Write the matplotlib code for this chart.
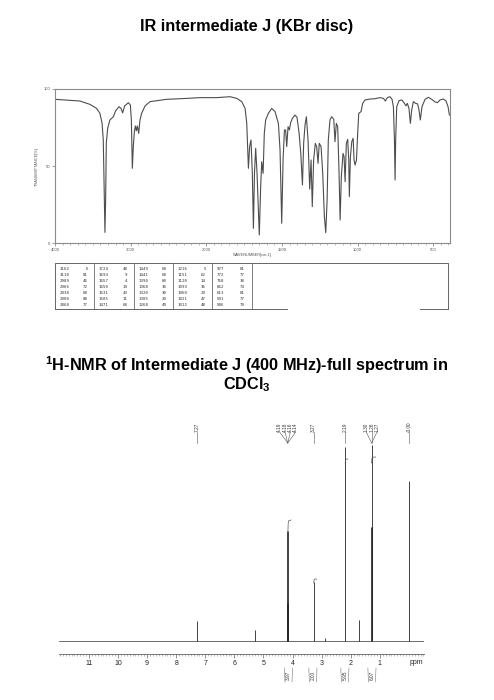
import numpy as np
import matplotlib
matplotlib.use('Agg')
import matplotlib.pyplot as plt
from matplotlib.ticker import FixedLocator, FixedFormatter, NullFormatter

plt.rcParams['font.family'] = ['Liberation Sans', 'DejaVu Sans']
plt.rcParams['mathtext.fontset'] = 'custom'
plt.rcParams['mathtext.rm'] = 'Liberation Sans:bold'
plt.rcParams['mathtext.default'] = 'rm'

# ---------------- IR data (traced) ----------------
ir_wavenumber = [4000, 3670, 3538, 3450, 3406, 3378, 3362, 3348, 3340, 3331, 3322, 3304, 3274, 3229,
                 3198, 3154, 3128, 3106, 3080, 3030, 3004, 2991, 2978, 2965, 2951, 2938, 2925, 2912,
                 2894, 2877, 2855, 2810, 2744, 2524, 2260, 2084, 1932, 1843, 1799, 1766, 1744, 1733,
                 1722, 1714, 1705, 1696, 1689, 1682, 1674, 1665, 1650, 1641, 1634, 1625, 1617, 1608,
                 1590, 1568, 1546, 1524, 1513, 1502, 1493, 1484, 1476, 1469, 1460, 1451, 1443, 1431,
                 1414, 1401, 1387, 1376, 1365, 1357, 1348, 1339, 1328, 1317, 1308, 1300, 1291, 1280,
                 1271, 1262, 1254, 1242, 1231, 1220, 1211, 1202, 1194, 1183, 1172, 1158, 1150, 1141,
                 1132, 1123, 1116, 1108, 1097, 1090, 1083, 1075, 1066, 1059, 1055, 1048, 1039, 1030,
                 1024, 1017, 1008, 1000, 993, 978, 967, 951, 918, 885, 852, 830, 817, 804, 786, 773,
                 764, 757, 753, 749, 742, 727, 709, 694, 681, 672, 661, 652, 643, 632, 617, 604, 595,
                 586, 575, 555, 533, 511, 489, 473, 456, 434, 416, 403, 394]
ir_transmittance = [93.3, 92.2, 90.0, 87.4, 84.2, 77.7, 66.9, 27.9, 6.9, 27.9, 64.7, 74.5, 79.9, 82.0,
                    85.9, 88.5, 87.4, 84.5, 89.0, 91.1, 89.6, 79.9, 48.5, 62.6, 72.3, 76.0, 72.9, 76.0,
                    71.2, 79.9, 84.2, 89.0, 91.8, 93.3, 93.9, 94.4, 94.4, 95.0, 93.9, 91.8, 87.4, 77.7,
                    48.5, 62.6, 66.9, 45.2, 9.5, 45.2, 61.5, 45.2, 5.2, 36.6, 52.8, 45.2, 71.2, 79.9,
                    84.2, 87.4, 85.3, 77.7, 60.4, 12.8, 53.9, 73.4, 73.4, 62.6, 75.5, 73.4, 78.1, 81.0,
                    83.1, 81.6, 71.2, 58.2, 37.7, 64.7, 76.6, 82.0, 66.9, 35.0, 53.9, 23.6, 53.9, 64.7,
                    62.6, 51.7, 64.7, 62.6, 45.2, 17.1, 6.7, 27.9, 66.9, 79.9, 82.0, 80.3, 65.8, 77.7,
                    75.5, 45.2, 14.9, 43.1, 58.2, 56.1, 39.8, 64.7, 67.3, 53.9, 30.1, 56.1, 65.8, 68.0,
                    53.9, 50.6, 53.9, 71.2, 84.2, 85.3, 90.7, 92.9, 93.5, 93.7, 94.4, 93.9, 92.2, 94.4,
                    95.0, 93.3, 88.5, 66.9, 40.9, 66.9, 88.5, 92.4, 92.9, 91.1, 89.0, 90.7, 87.4, 77.7,
                    86.4, 91.8, 90.7, 90.3, 86.4, 79.9, 88.5, 93.3, 94.6, 93.3, 91.6, 91.1, 92.9, 93.5,
                    92.2, 88.5, 83.1]
ir_tick_values = [4000, 3000, 2000, 1500, 1000, 500]
ir_tick_labels = ['4000', '3000', '2000', '1500', '1000', '500']

# peak table (wavenumber, %T) in 5 columns of 7 rows
table_wavenumber = [[3162, 3110, 2989, 2966, 2938, 2900, 2868],
                    [1724, 1693, 1657, 1650, 1631, 1505, 1471],
                    [1449, 1441, 1390, 1368, 1320, 1305, 1268],
                    [1216, 1151, 1120, 1093, 1060, 1021, 1012],
                    [977, 772, 768, 662, 613, 591, 586]]
table_transmittance = [[6, 81, 46, 72, 68, 88, 77],
                       [48, 9, 4, 19, 43, 11, 68],
                       [68, 68, 60, 36, 30, 20, 49],
                       [5, 62, 14, 36, 29, 47, 48],
                       [81, 77, 38, 74, 81, 77, 79]]

# ---------------- 1H NMR data ----------------
nmr_peak_ppm = [7.27, 5.30, 4.193, 4.175, 4.157, 4.139, 3.27, 2.88, 2.19, 1.70, 1.299, 1.281, 1.263, 0.00]
nmr_peak_height = [20, 11, 38, 110, 110, 38, 59, 3, 194, 21, 114, 196, 114, 160]

label_group_ppm = [7.27, 4.166, 3.27, 2.19, 1.281, 0.00]
label_group_texts = [['7.27'], ['4.19', '4.18', '4.16', '4.14'], ['3.27'], ['2.19'],
                     ['1.30', '1.28', '1.27'], ['-0.00']]

integral_ppm = [4.16, 3.27, 2.19, 1.28]
integral_values = ['3.97', '2.00', '5.95', '6.07']
integral_curve_start = [108, 58, 178, 178]
integral_curve_rise = [13, 4, 4, 6]
integral_curve_width = [0.11, 0.10, 0.09, 0.14]
integral_label_ppm = [4.14, 3.30, 2.20, 1.27]

nmr_tick_values = list(range(1, 12))

W, H = 494, 700
fig = plt.figure(figsize=(W / 100, H / 100), dpi=100)

def fr(x0, y0, x1, y1):
    return [x0 / W, 1 - y1 / H, (x1 - x0) / W, (y1 - y0) / H]

# titles
fig.text(247 / W, 1 - 26 / H, 'IR intermediate J (KBr disc)', ha='center', va='center',
         fontsize=11.7, fontweight='bold')
fig.text(247 / W, 1 - 365 / H, r'$^{1}$H-NMR of Intermediate J (400 MHz)-full spectrum in',
         ha='center', va='center', fontsize=11.7, fontweight='bold')
fig.text(247 / W, 1 - 385 / H, r'CDCl$_{3}$', ha='center', va='center', fontsize=11.7,
         fontweight='bold')

# ---------------- IR axes ----------------
def fwd(w):
    w = np.asarray(w, dtype=float)
    return np.where(w <= 2000, w, 2000 + (w - 2000) / 2)

def inv(u):
    u = np.asarray(u, dtype=float)
    return np.where(u <= 2000, u, 2000 + 2 * (u - 2000))

ax1 = fig.add_axes(fr(55, 89, 450, 243))
ax1.set_xscale('function', functions=(fwd, inv))
ax1.plot(ir_wavenumber, ir_transmittance, color='#4d4d4d', lw=0.8)
ax1.set_xlim(4000, 390)
ax1.set_ylim(0, 100)
for s in ax1.spines.values():
    s.set_color('#8a8a8a')
    s.set_linewidth(0.8)
ax1.xaxis.set_major_locator(FixedLocator(ir_tick_values))
ax1.xaxis.set_major_formatter(FixedFormatter(ir_tick_labels))
minor = list(range(3900, 2000, -100)) + list(range(1950, 399, -50))
ax1.xaxis.set_minor_locator(FixedLocator(minor))
ax1.xaxis.set_minor_formatter(NullFormatter())
ax1.yaxis.set_major_locator(FixedLocator([0, 50, 100]))
ax1.yaxis.set_major_formatter(FixedFormatter(['0', '50', '100']))
ax1.tick_params(axis='both', which='major', labelsize=3, length=2, width=0.5, pad=1.5,
                color='#777777', labelcolor='#555555')
ax1.tick_params(axis='both', which='minor', length=1.2, width=0.4, color='#888888')
ax1.set_xlabel('WAVENUMBER[cm-1]', fontsize=2.8, color='#555555', labelpad=0.5)
ax1.set_ylabel('TRANSMITTANCE[%]', fontsize=2.8, color='#555555', labelpad=3)

# ---------------- peak table ----------------
axt = fig.add_axes(fr(50, 258, 453, 314))
axt.set_xlim(50, 453)
axt.set_ylim(314, 258)
axt.axis('off')
axt.plot([55, 55, 448, 448], [309, 263, 263, 309], color='#666666', lw=0.7, clip_on=False)
axt.plot([55, 287], [309, 309], color='#666666', lw=0.7, clip_on=False)
axt.plot([420, 448], [309, 309], color='#666666', lw=0.7, clip_on=False)
col_w = 39.3
for c in range(1, 6):
    xc = 55 + c * col_w
    axt.plot([xc, xc], [263, 309], color='#666666', lw=0.6, clip_on=False)
for c in range(5):
    x0 = 55 + c * col_w
    for r in range(7):
        y = 268.5 + r * 6
        axt.text(x0 + 4.5, y, str(table_wavenumber[c][r]), ha='left', va='center',
                 fontsize=3.0, family='DejaVu Sans Mono', color='#333333', clip_on=False)
        axt.text(x0 + 33, y, str(table_transmittance[c][r]), ha='right', va='center',
                 fontsize=3.0, family='DejaVu Sans Mono', color='#333333', clip_on=False)

# ---------------- NMR axes ----------------
ax2 = fig.add_axes(fr(59, 400, 424, 654))
ax2.patch.set_visible(False)
ax2.set_xlim(12.03, -0.52)
ax2.set_ylim(-13, 241)
for k in ['top', 'left', 'right']:
    ax2.spines[k].set_visible(False)
ax2.spines['bottom'].set_color('#777777')
ax2.spines['bottom'].set_linewidth(0.7)
ax2.yaxis.set_visible(False)
ax2.plot([12.03, -0.52], [0, 0], color='#555555', lw=0.6)
ax2.vlines(nmr_peak_ppm, 0, nmr_peak_height, color='#222222', lw=0.6)

ax2.xaxis.set_major_locator(FixedLocator(nmr_tick_values))
ax2.xaxis.set_major_formatter(FixedFormatter([str(v) for v in nmr_tick_values]))
ax2.xaxis.set_minor_locator(FixedLocator(np.arange(-0.5, 12.01, 0.1)))
ax2.tick_params(axis='x', which='major', labelsize=5, length=3, width=0.5, pad=1.5,
                color='#666666', labelcolor='#222222')
ax2.tick_params(axis='x', which='minor', length=1.5, width=0.4, color='#888888')
ax2.text(-0.27, -22, 'ppm', ha='center', va='center', fontsize=5, color='#222222', clip_on=False)

# peak labels with leader lines
spacing = 0.185
for c, texts in zip(label_group_ppm, label_group_texts):
    n = len(texts)
    for k, t in enumerate(texts):
        xl = c + ((n - 1) / 2 - k) * spacing
        ax2.text(xl, 209, t, rotation=90, ha='center', va='bottom', fontsize=3.4,
                 color='#333333', clip_on=False)
        ax2.plot([xl, c], [209, 198], color='#555555', lw=0.4)

# integral curves
for c, h0, r, w in zip(integral_ppm, integral_curve_start, integral_curve_rise, integral_curve_width):
    xs = [c, c - 0.01, c - 0.03, c - w]
    ys = [h0, h0 + 0.75 * r, h0 + 0.95 * r, h0 + r]
    ax2.plot(xs, ys, color='#555555', lw=0.5)

# integration labels below axis
for c, v in zip(integral_label_ppm, integral_values):
    for side in (-1, 1):
        ax2.plot([c + side * 0.14, c + side * 0.12], [-27, -41], color='#777777', lw=0.4,
                 clip_on=False)
    ax2.text(c, -34, v, rotation=90, ha='center', va='center', fontsize=3.4, color='#333333',
             clip_on=False)

fig.savefig('out.png', dpi=100)
